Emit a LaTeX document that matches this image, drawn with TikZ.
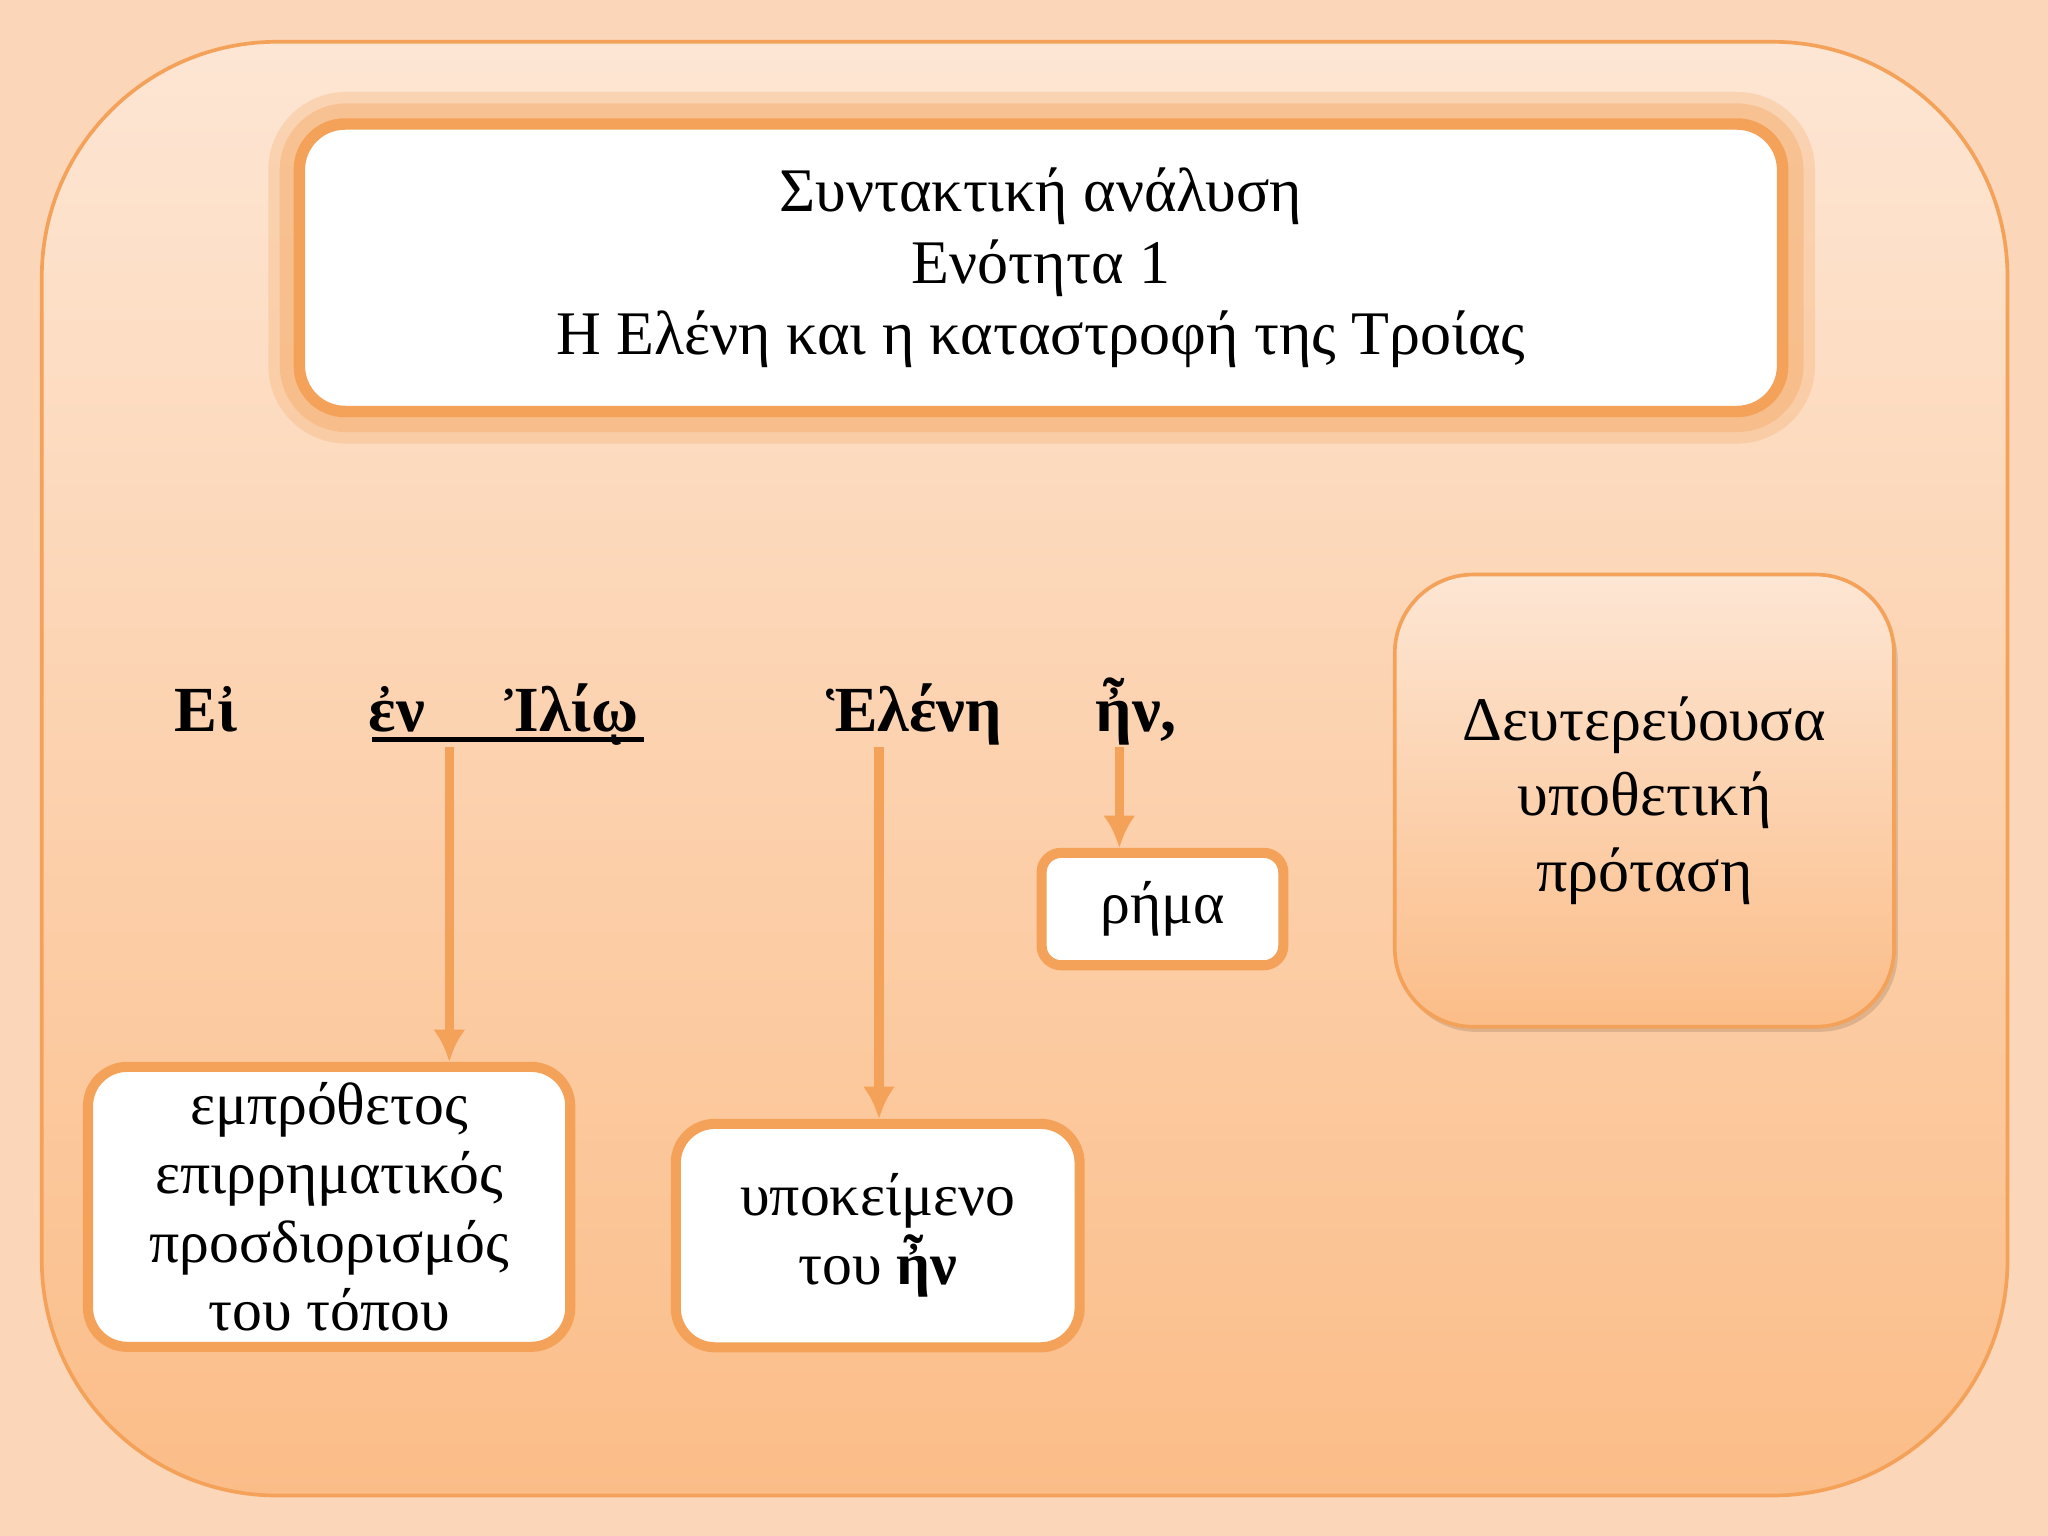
\documentclass[tikz,border=0pt]{standalone}
\usepackage{fontspec}
\setmainfont{Liberation Serif}
\usetikzlibrary{arrows.meta}
\definecolor{bgc}{HTML}{FBD6B8}
\definecolor{orl}{HTML}{F4A259}
\definecolor{topc}{HTML}{FDE6D4}
\definecolor{botc}{HTML}{FBBD88}
\tikzset{
 wbox/.style={draw=orl,line width=2.2pt,fill=white,rounded corners=0.3cm,align=center,font=\fontsize{13}{15}\selectfont},
 arr/.style={draw=orl,line width=2pt,-{Latex[length=7pt,width=7pt]}},
 word/.style={font=\bfseries\fontsize{14}{16}\selectfont,anchor=base}
}
\begin{document}
\begin{tikzpicture}[x=0.01cm,y=-0.01cm]
\useasboundingbox (0,0) rectangle (1568,1176);
\fill[bgc] (0,0) rectangle (1568,1176);
\shade[top color=topc,bottom color=botc,draw=orl,line width=0.8pt,rounded corners=1.8cm] (32,32) rectangle (1537,1145);
\draw[orl,opacity=0.35,line width=9pt,rounded corners=0.35cm] (230,95) rectangle (1365,315);
\draw[orl,opacity=0.25,line width=14pt,rounded corners=0.35cm] (230,95) rectangle (1365,315);
\node[wbox,minimum width=11.35cm,minimum height=2.2cm,line width=2.5pt,rounded corners=0.35cm,font=\fontsize{13.5}{15.5}\selectfont] (title) at (797,205) {Συντακτική ανάλυση\\Ενότητα 1\\Η Ελένη και η καταστροφή της Τροίας};
\node[word] (ei) at (158,560) {Εἰ};
\node[word] (en) at (304,560) {ἐν};
\node[word] (ilio) at (438,560) {Ἰλίῳ};
\node[word] (eleni) at (700,560) {Ἑλένη};
\node[word] (in) at (870,560) {ἦν,};
\coordinate (ul1) at (285,566); \coordinate (ul2) at (493,566);
\draw[line width=1pt] (ul1) -- (ul2);
\node[wbox,minimum width=1.85cm,minimum height=0.86cm,rounded corners=0.15cm] (rima) at (890,696) {ρήμα};
\node[wbox,minimum width=3.69cm,minimum height=2.14cm] (emp) at (252,924) {εμπρόθετος\\επιρρηματικός\\προσδιορισμός\\του τόπου};
\node[wbox,minimum width=3.09cm,minimum height=1.71cm] (ypo) at (672,946) {υποκείμενο\\του \textbf{ἦν}};
\fill[black,opacity=0.12,rounded corners=0.6cm] (1070,446) rectangle (1453,790);
\node[draw=orl,line width=0.8pt,rounded corners=0.6cm,minimum width=3.82cm,minimum height=3.46cm,top color=topc,bottom color=botc] (dev) at (1259,613) {};
\node[align=center,font=\fontsize{13.5}{16.5}\selectfont] (devt) at (1259,613) {Δευτερεύουσα\\υποθετική\\πρόταση};
\coordinate (a1) at (344,572); \coordinate (a2) at (673,572); \coordinate (a3) at (857,572);
\draw[arr] (a1) -- (emp.north -| a1);
\draw[arr] (a2) -- (ypo.north -| a2);
\draw[arr] (a3) -- (rima.north -| a3);
\end{tikzpicture}
\end{document}
